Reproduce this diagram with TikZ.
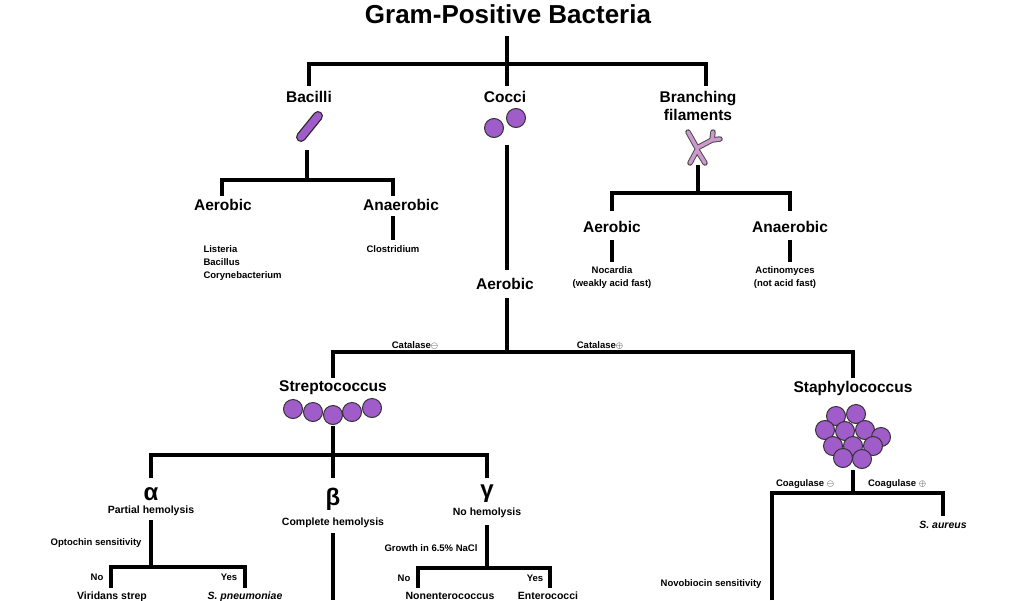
\documentclass[tikz,border=0pt]{standalone}
\usepackage{fontspec}
\setmainfont{Liberation Sans}
\definecolor{pur}{HTML}{A05CC8}
\begin{document}
\begin{tikzpicture}[x=1pt,y=-1pt,
  br/.style={line width=4pt},
  big/.style={font=\bfseries\fontsize{15.5}{18}\selectfont,align=center},
  sm/.style={font=\bfseries\fontsize{9.5}{13}\selectfont,align=center},
  mid/.style={font=\bfseries\fontsize{10.5}{12}\selectfont,align=center},
  greek/.style={font=\bfseries\fontsize{24}{26}\selectfont},
  ball/.style={circle,draw=black!80,line width=1pt,fill=pur,minimum size=19pt,inner sep=0pt}]
\useasboundingbox (0,0) rectangle (1014,600);
\node[font=\bfseries\fontsize{26}{30}\selectfont] (title) at (508,14) {Gram-Positive Bacteria};
\coordinate (t0) at (507,36);
\coordinate (tb) at (507,64);
\draw[br] (t0)--(tb);
\draw[br] (309,86)--(309,64)--(706,64)--(706,86);
\draw[br] (507,64)--(507,86);
\node[big] (bac) at (309,97) {Bacilli};
\node[big] (coc) at (505,97) {Cocci};
\node[big] (bra) at (698,106) {Branching\\filaments};
% icons
\draw[line width=10pt,line cap=round,black!85] (301,137)--(318,116);
\draw[line width=7.5pt,line cap=round,pur] (301,137)--(318,116);
\node[ball] (c1) at (494,128) {};
\node[ball] (c2) at (516,118) {};
\foreach \w/\c in {5.5pt/black!70,3.5pt/violet!40} {
 \draw[line width=\w,line cap=round,\c,line join=round] (688,132)--(697,148)--(712,140)--(720,139);
 \draw[line width=\w,line cap=round,\c] (712,140)--(713,132);
 \draw[line width=\w,line cap=round,\c,line join=round] (690,163)--(697,150)--(705,163);}
% Bacilli
\draw[br] (307,150)--(307,180);
\draw[br] (222,196)--(222,180)--(393,180)--(393,196);
\node[big] (baa) at (223,205) {Aerobic};
\node[big] (ban) at (401,205) {Anaerobic};
\draw[br] (393,216)--(393,240);
\node[sm,align=left,anchor=north west] (bl) at (200,242) {Listeria\\Bacillus\\Corynebacterium};
\node[sm] (clo) at (393,249) {Clostridium};
% Cocci
\draw[br] (507,145)--(507,270);
\node[big] (caer) at (505,284) {Aerobic};
\draw[br] (507,298)--(507,352);
\draw[br] (333,378)--(333,352)--(853,352)--(853,378);
\node[sm] (cm) at (415,345) {Catalase$\ominus$};
\node[sm] (cp) at (600,345) {Catalase$\oplus$};
% Branching
\draw[br] (698,165)--(698,193);
\draw[br] (612,211)--(612,193)--(790,193)--(790,211);
\node[big] (fa) at (612,227) {Aerobic};
\node[big] (fn) at (790,227) {Anaerobic};
\draw[br] (612,240)--(612,262);
\draw[br] (790,240)--(790,262);
\node[sm] (noc) at (612,278) {Nocardia\\(weakly acid fast)};
\node[sm] (act) at (785,278) {Actinomyces\\(not acid fast)};
% Strep
\node[big] (str) at (333,388) {Streptococcus};
\node[ball] (s1) at (293,409) {};
\node[ball] (s2) at (313,412) {};
\node[ball] (s3) at (333,415) {};
\node[ball] (s4) at (352,412) {};
\node[ball] (s5) at (372,408) {};
\draw[br] (333,426)--(333,478);
\draw[br] (151,478)--(151,455)--(487,455)--(487,478);
\node[greek] (al) at (151,494) {α};
\node[mid] (ph) at (151,511) {Partial hemolysis};
\node[greek] (be) at (333,499) {β};
\node[mid] (ch) at (333,523) {Complete hemolysis};
\node[greek] (ga) at (487,494) {γ};
\node[mid] (nh) at (487,513) {No hemolysis};
\draw[br] (151,520)--(151,567);
\draw[br] (111,588)--(111,567)--(245,567)--(245,588);
\node[sm,anchor=east] (opt) at (145,543) {Optochin sensitivity};
\node[sm] (n1) at (97,577) {No};
\node[sm] (y1) at (229,577) {Yes};
\node[mid] (vir) at (112,597) {Viridans strep};
\node[mid,font=\bfseries\itshape\fontsize{10.5}{12}\selectfont] (spn) at (245,597) {S. pneumoniae};
\draw[br] (333,533)--(333,600);
\draw[br] (487,525)--(487,568);
\draw[br] (418,588)--(418,568)--(550,568)--(550,588);
\node[sm,anchor=east] (nacl) at (481,548) {Growth in 6.5\% NaCl};
\node[sm] (n2) at (404,578) {No};
\node[sm] (y2) at (535,578) {Yes};
\node[mid] (non) at (450,596) {Nonenterococcus};
\node[mid] (ent) at (548,596) {Enterococci};
% Staph
\node[big] (sta) at (853,388) {Staphylococcus};
\foreach \x/\y [count=\i] in {836/416,856/414,825/430,845/431,865/430,881/437,833/446,853/446,873/446,843/458,862/459}
  \node[ball] (k\i) at (\x,\y) {};
\draw[br] (853,470)--(853,493);
\draw[br] (772,600)--(772,493)--(943,493)--(943,516);
\node[sm] (cg1) at (805,484) {Coagulase $\ominus$};
\node[sm] (cg2) at (897,484) {Coagulase $\oplus$};
\node[mid,font=\bfseries\itshape\fontsize{10.5}{12}\selectfont] (sau) at (943,525) {S. aureus};
\node[sm,anchor=east] (nov) at (765,584) {Novobiocin sensitivity};
\end{tikzpicture}
\end{document}
